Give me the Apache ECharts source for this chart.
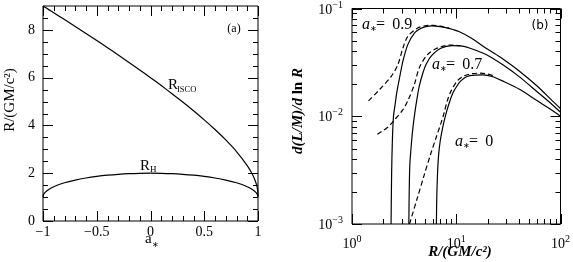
<!DOCTYPE html>
<html><head><meta charset="utf-8">
<script src="https://cdn.jsdelivr.net/npm/echarts@6/dist/echarts.min.js"></script>
<style>html,body{margin:0;padding:0;background:#fff}#c{width:573px;height:262px}</style>
</head><body><div id="c"></div>
<script>
// ---------- Panel (a) ----------
const spinA = [-1, -0.999, -0.995, -0.99, -0.98, -0.95, -0.9, -0.8, -0.7, -0.6, -0.5, -0.4, -0.3, -0.2, -0.1, 0,
  0.1, 0.2, 0.3, 0.4, 0.5, 0.6, 0.7, 0.8, 0.9, 0.95, 0.98, 0.99, 0.995, 0.999, 1];
const rIsco = [9.0, 8.997, 8.986, 8.972, 8.943, 8.859, 8.717, 8.432, 8.143, 7.851, 7.555, 7.254, 6.949, 6.639, 6.323, 6.0,
  5.669, 5.329, 4.979, 4.614, 4.233, 3.829, 3.393, 2.907, 2.321, 1.937, 1.614, 1.455, 1.34, 1.18, 1.04];
const rHorizon = [1.0, 1.045, 1.1, 1.141, 1.199, 1.312, 1.436, 1.6, 1.714, 1.8, 1.866, 1.917, 1.954, 1.98, 1.995, 2.0,
  1.995, 1.98, 1.954, 1.917, 1.866, 1.8, 1.714, 1.6, 1.436, 1.312, 1.199, 1.141, 1.1, 1.045, 1.0];
const leftMajorX = [-1, -0.5, 0, 0.5, 1];
const leftMinorX = [-0.9, -0.8, -0.7, -0.6, -0.4, -0.3, -0.2, -0.1, 0.1, 0.2, 0.3, 0.4, 0.6, 0.7, 0.8, 0.9];
const leftMajorY = [0, 2, 4, 6, 8];
const leftMinorY = [0.5, 1, 1.5, 2.5, 3, 3.5, 4.5, 5, 5.5, 6.5, 7, 7.5, 8.5];

// ---------- Panel (b) ----------
const r09s = [2.37, 2.40, 2.44, 2.50, 2.58, 2.70, 2.86, 3.08, 3.43, 3.97, 4.6, 5.1, 5.8, 7.0, 8.5, 10.6, 14, 19.5, 28, 40.4, 60, 83.5, 100];
const f09s = [0.001, 0.003, 0.006, 0.010, 0.0125, 0.017, 0.0228, 0.0325, 0.0462, 0.0592, 0.0655, 0.068, 0.069, 0.068, 0.0655, 0.0612, 0.053, 0.0425, 0.034, 0.0262, 0.019, 0.0139, 0.0118];
const r09d = [1.44, 1.85, 2.39, 2.76, 3.08, 3.43, 4.26, 5.2, 6.0, 7.0, 8.5];
const f09d = [0.0139, 0.0178, 0.0236, 0.0303, 0.043, 0.0552, 0.0659, 0.0695, 0.0697, 0.0685, 0.0658];
const r07s = [3.51, 3.58, 3.71, 3.85, 4.03, 4.2, 4.42, 4.8, 5.2, 5.8, 7.1, 9.1, 11, 13.6, 19.5, 28, 40.4, 60, 83.5, 100];
const f07s = [0.001, 0.0034, 0.0055, 0.008, 0.0112, 0.0145, 0.019, 0.0255, 0.031, 0.0365, 0.0428, 0.0453, 0.045, 0.0428, 0.0372, 0.03, 0.0232, 0.0168, 0.0128, 0.0109];
const r07d = [1.75, 2.2, 2.57, 3.08, 3.43, 3.97, 4.42, 5.3, 6.3, 7.5, 9.1, 11];
const f07d = [0.0068, 0.0079, 0.0093, 0.0115, 0.0139, 0.0198, 0.0282, 0.0374, 0.042, 0.0448, 0.0458, 0.0452];
const r00s = [6.45, 6.5, 6.6, 6.75, 7.0, 7.4, 7.9, 8.5, 9.3, 10.2, 11, 12.66, 15, 18, 22, 28, 40.4, 60, 83.5, 100];
const f00s = [0.001, 0.0017, 0.0028, 0.0042, 0.0058, 0.0078, 0.0102, 0.013, 0.0165, 0.0192, 0.0212, 0.0234, 0.0241, 0.0242, 0.0234, 0.0212, 0.0178, 0.0139, 0.0113, 0.0100];
const r00d = [3.56, 4.2, 4.9, 5.7, 6.5, 7.1, 7.6, 8.2, 8.93, 10.2, 11.8, 14, 17, 20, 24];
const f00d = [0.001, 0.0017, 0.0028, 0.0045, 0.0066, 0.0085, 0.0105, 0.0139, 0.0172, 0.0212, 0.0236, 0.0248, 0.0251, 0.0246, 0.0233];
const rightMajorX = [1, 10, 100];
const rightMinorX = [2, 3, 4, 5, 6, 7, 8, 9, 20, 30, 40, 50, 60, 70, 80, 90];
const rightMajorY = [0.001, 0.01, 0.1];
const rightMinorY = [0.002, 0.003, 0.004, 0.005, 0.006, 0.007, 0.008, 0.009, 0.02, 0.03, 0.04, 0.05, 0.06, 0.07, 0.08, 0.09];

const FF = 'Liberation Serif';
const zip = (a, b) => a.map((v, i) => [v, b[i]]);
const black = '#000';

const lblBase = { color: black, fontFamily: FF, fontSize: 14 };
const sup = {
  b: { fontFamily: FF, fontSize: 14, lineHeight: 17, color: black, verticalAlign: 'bottom' },
  s: { fontFamily: FF, fontSize: 10, lineHeight: 10, color: black, verticalAlign: 'top' }
};
const logFmt = v => { const e = Math.round(Math.log10(v)); return '{b|10}{s|' + (e < 0 ? '\u2212' + (-e) : e) + '}'; };
const minusFmt = v => (v < 0 ? '\u2212' + Math.abs(v) : String(v));
const hide = { show: false };

const lineS = (xi, yi, data, dashed) => ({
  type: 'line', xAxisIndex: xi, yAxisIndex: yi, data: data, showSymbol: false, smooth: 0.3,
  lineStyle: { color: black, width: 1.2, type: dashed ? [5, 3] : 'solid' }, z: 3
});

const T = (x, y, text, opt) => ({ type: 'text', x: x, y: y, rotation: (opt && opt.rot) || 0,
  style: Object.assign({ text: text, fontFamily: FF, fontSize: 15, fill: black, align: 'left', verticalAlign: 'middle' }, opt && opt.st) });

function aLabel(x, y, rest) {
  return [
    T(x, y, 'a', { st: { fontStyle: 'italic', fontSize: 16 } }),
    T(x + 8, y + 4, '\u2217', { st: { fontFamily: 'DejaVu Sans', fontSize: 8 } }),
    T(x + 14, y, rest, { st: { fontSize: 16 } })
  ];
}

const textEls = [].concat(
  [T(10, 100, 'R/(GM/c\u00B2)', { rot: Math.PI / 2, st: { align: 'center', fontSize: 15 } })],
  [T(145, 239, 'a', { st: { fontSize: 15 } }), T(152, 245, '\u2217', { st: { fontFamily: 'DejaVu Sans', fontSize: 8 } })],
  [T(234, 29, '(a)', { st: { align: 'center', fontSize: 12 } })],
  [T(168, 85, 'R', { st: { fontSize: 15 } }), T(177, 89.5, 'ISCO', { st: { fontSize: 8.5 } })],
  [T(140, 166, 'R', { st: { fontSize: 15 } }), T(150, 170, 'H', { st: { fontSize: 9 } })],
  [{ type: 'text', x: 298, y: 111, rotation: Math.PI / 2, style: {
      text: '{i|d(L/M)/d }{r|ln}{i| R}', align: 'center', verticalAlign: 'middle',
      rich: { i: { fontFamily: FF, fontSize: 15, fontStyle: 'italic', fontWeight: 'bold', fill: black },
              r: { fontFamily: FF, fontSize: 15, fontWeight: 'bold', fill: black } } } }],
  [T(460, 252, 'R/(GM/c\u00B2)', { st: { align: 'center', fontStyle: 'italic', fontWeight: 'bold', fontSize: 15 } })],
  aLabel(362, 25, '= \u20090.9'),
  aLabel(432, 65, '= \u20090.7'),
  aLabel(455, 142, '= \u20090'),
  [T(540, 26, '(b)', { st: { align: 'center', fontFamily: 'DejaVu Sans', fontSize: 12 } })]
);

const option = {
  animation: false,
  backgroundColor: '#fff',
  grid: [
    { left: 43, top: 6, width: 215, height: 215, show: true, borderColor: black, borderWidth: 1, backgroundColor: 'transparent' },
    { left: 352, top: 7, width: 211, height: 217, show: true, borderColor: black, borderWidth: 1, backgroundColor: 'transparent' }
  ],
  xAxis: [
    { type: 'value', gridIndex: 0, min: -1, max: 1, interval: 0.5,
      axisLine: hide, axisTick: hide, splitLine: hide,
      axisLabel: Object.assign({ margin: 4, formatter: minusFmt }, lblBase) },
    { type: 'log', gridIndex: 1, min: 1, max: 100, logBase: 10,
      axisLine: hide, axisTick: hide, splitLine: hide,
      axisLabel: { margin: 10, formatter: logFmt, rich: sup } }
  ],
  yAxis: [
    { type: 'value', gridIndex: 0, min: 0, max: 9, interval: 2,
      axisLine: hide, axisTick: hide, splitLine: hide,
      axisLabel: Object.assign({ margin: 8, showMaxLabel: false, formatter: v => (v % 2 === 0 ? String(v) : '') }, lblBase) },
    { type: 'log', gridIndex: 1, min: 0.001, max: 0.1, logBase: 10,
      axisLine: hide, axisTick: hide, splitLine: hide,
      axisLabel: { margin: 9, formatter: logFmt, rich: sup } }
  ],
  series: [
    lineS(0, 0, zip(spinA, rIsco), false),
    lineS(0, 0, zip(spinA, rHorizon), false),
    lineS(1, 1, zip(r09s, f09s), false),
    lineS(1, 1, zip(r09d, f09d), true),
    lineS(1, 1, zip(r07s, f07s), false),
    lineS(1, 1, zip(r07d, f07d), true),
    lineS(1, 1, zip(r00s, f00s), false),
    lineS(1, 1, zip(r00d, f00d), true)
  ]
};

const chart = echarts.init(document.getElementById('c'), null, { renderer: 'canvas' });
chart.setOption(option);

// Tick marks on all four edges, positioned through the axes' own scales (convertToPixel)
const E = [{ x0: -1, x1: 1, y0: 0, y1: 9 }, { x0: 1, x1: 100, y0: 0.001, y1: 0.1 }];
const snap = v => Math.round(v) + 0.5;
function ticks(gi, vals, dir, len) {
  const e = E[gi], out = [];
  vals.forEach(v => {
    if (dir === 'x') {
      const b = chart.convertToPixel({ gridIndex: gi }, [v, e.y0]);
      const t = chart.convertToPixel({ gridIndex: gi }, [v, e.y1]);
      const x = snap(b[0]);
      out.push({ type: 'line', z: 10, shape: { x1: x, y1: b[1], x2: x, y2: b[1] - len }, style: { stroke: black, lineWidth: 1 } });
      out.push({ type: 'line', z: 10, shape: { x1: x, y1: t[1], x2: x, y2: t[1] + len }, style: { stroke: black, lineWidth: 1 } });
    } else {
      const l = chart.convertToPixel({ gridIndex: gi }, [e.x0, v]);
      const r = chart.convertToPixel({ gridIndex: gi }, [e.x1, v]);
      const y = snap(l[1]);
      out.push({ type: 'line', z: 10, shape: { x1: l[0], y1: y, x2: l[0] + len, y2: y }, style: { stroke: black, lineWidth: 1 } });
      out.push({ type: 'line', z: 10, shape: { x1: r[0], y1: y, x2: r[0] - len, y2: y }, style: { stroke: black, lineWidth: 1 } });
    }
  });
  return out;
}
const tickEls = [].concat(
  ticks(0, leftMajorX, 'x', 10), ticks(0, leftMinorX, 'x', 5),
  ticks(0, leftMajorY, 'y', 10), ticks(0, leftMinorY, 'y', 5),
  ticks(1, rightMajorX, 'x', 10), ticks(1, rightMinorX, 'x', 5),
  ticks(1, rightMajorY, 'y', 10), ticks(1, rightMinorY, 'y', 5)
);
chart.setOption({ graphic: textEls.concat(tickEls) });
</script>
</body></html>
